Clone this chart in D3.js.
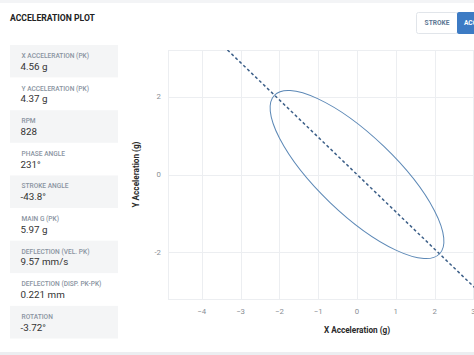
<!DOCTYPE html>
<html>
<head>
<meta charset="utf-8">
<script src="https://cdn.jsdelivr.net/npm/d3@7"></script>
<style>
  body { margin: 0; overflow: hidden; background: #fff; font-family: Roboto, "Noto Sans", sans-serif; }
</style>
</head>
<body>
<div id="chart"></div>
<script>
// Stats panel
const statLabels = ['X ACCELERATION (PK)', 'Y ACCELERATION (PK)', 'RPM', 'PHASE ANGLE', 'STROKE ANGLE',
  'MAIN G (PK)', 'DEFLECTION (VEL. PK)', 'DEFLECTION (DISP. PK-PK)', 'ROTATION'];
const statValues = ['4.56 g', '4.37 g', '828', '231°', '-43.8°', '5.97 g', '9.57 mm/s', '0.221 mm', '-3.72°'];

// Plot data (g)
const xTicks = [-4, -3, -2, -1, 0, 1, 2, 3, 4];
const yTicks = [-2, 0, 2];
const strokeAngle = -43.8;          // degrees, dashed line through origin
const ellipseAxes = [2.95, 1.0];    // semi-major, semi-minor (g)
const ellipseCenter = [0, 0];

const W = 600, H = 355;
const svg = d3.select('#chart').append('svg').attr('width', W).attr('height', H);

// page chrome
svg.append('rect').attr('x', 0).attr('y', 0).attr('width', W).attr('height', 3).attr('fill', '#f3f4f6');
svg.append('rect').attr('x', 0).attr('y', 352).attr('width', W).attr('height', 3).attr('fill', '#eceef1');

svg.append('text').attr('x', 10).attr('y', 21)
  .text('ACCELERATION PLOT')
  .style('font-size', '8.6px').style('font-weight', 700).attr('fill', '#222');

// toggle buttons
svg.append('rect').attr('x', 416.5).attr('y', 12.5).attr('width', 41).attr('height', 21)
  .attr('rx', 2).attr('fill', '#fff').attr('stroke', '#e1e5ea');
svg.append('text').attr('x', 437).attr('y', 25).attr('text-anchor', 'middle')
  .text('STROKE').style('font-size', '6.6px').style('font-weight', 700).attr('fill', '#5d7793');
svg.append('rect').attr('x', 457).attr('y', 12).attr('width', 80).attr('height', 22)
  .attr('rx', 2).attr('fill', '#3d7bc4');
svg.append('text').attr('x', 464).attr('y', 25)
  .text('ACCELERATION').style('font-size', '6.6px').style('font-weight', 700).attr('fill', '#fff');

// stat cards
const cardY = d3.scaleBand().domain(d3.range(statLabels.length)).range([45, 338.5]);
const cards = svg.append('g').selectAll('g').data(statLabels).enter().append('g')
  .attr('transform', (d, i) => `translate(10,${cardY(i)})`);
cards.append('rect').attr('width', 108).attr('height', cardY.bandwidth())
  .attr('fill', (d, i) => i % 2 === 0 ? '#f4f5f6' : '#fff');
cards.append('text').attr('x', 11.5).attr('y', 13)
  .text(d => d)
  .style('font-size', '6.6px').style('font-weight', 500).attr('fill', '#8a94a1');
cards.append('text').attr('x', 10.5).attr('y', 24.8)
  .text((d, i) => statValues[i])
  .style('font-size', '9.8px').attr('fill', '#333');

// plot
const x = d3.scaleLinear().domain([-4.87, 4.87]).range([168, 546]);
const y = d3.scaleLinear().domain([-3.2, 3.2]).range([299, 50]);

const plot = svg.append('g');
svg.append('clipPath').attr('id', 'clip').append('rect')
  .attr('x', x.range()[0]).attr('y', y.range()[1])
  .attr('width', x.range()[1] - x.range()[0]).attr('height', y.range()[0] - y.range()[1]);

plot.append('rect').attr('x', x.range()[0] + 0.5).attr('y', y.range()[1] + 0.5)
  .attr('width', x.range()[1] - x.range()[0]).attr('height', y.range()[0] - y.range()[1])
  .attr('fill', 'none').attr('stroke', '#eceef1');

plot.append('g').selectAll('line').data(xTicks).enter().append('line')
  .attr('x1', d => Math.round(x(d)) + 0.5).attr('x2', d => Math.round(x(d)) + 0.5)
  .attr('y1', y.range()[1]).attr('y2', y.range()[0])
  .attr('stroke', '#eceef1');
plot.append('g').selectAll('line').data(yTicks).enter().append('line')
  .attr('y1', d => Math.round(y(d)) + 0.5).attr('y2', d => Math.round(y(d)) + 0.5)
  .attr('x1', x.range()[0]).attr('x2', x.range()[1])
  .attr('stroke', '#eceef1');

// tick labels
const fmt = d => d < 0 ? '\u2212' + Math.abs(d) : String(d);
plot.append('g').selectAll('text').data(xTicks).enter().append('text')
  .attr('x', d => x(d)).attr('y', 314).attr('text-anchor', 'middle')
  .text(fmt).style('font-size', '7.8px').attr('fill', '#8a8f96');
plot.append('g').selectAll('text').data(yTicks).enter().append('text')
  .attr('x', 161).attr('y', d => y(d) + 2.8).attr('text-anchor', 'end')
  .text(d => String(d)).style('font-size', '7.8px').attr('fill', '#8a8f96');

// axis titles
svg.append('text').attr('x', x(0)).attr('y', 333).attr('text-anchor', 'middle')
  .text('X Acceleration (g)').style('font-size', '8.2px').style('font-weight', 700).attr('fill', '#2a2a2a');
svg.append('text').attr('transform', `translate(139,${y(0)}) rotate(-90)`).attr('text-anchor', 'middle')
  .text('Y Acceleration (g)').style('font-size', '8.2px').style('font-weight', 700).attr('fill', '#2a2a2a');

// marks
const marks = plot.append('g').attr('clip-path', 'url(#clip)');
const slope = Math.tan(strokeAngle * Math.PI / 180);
const lineX = x.domain();
marks.append('line')
  .attr('x1', x(lineX[0])).attr('y1', y(lineX[0] * slope))
  .attr('x2', x(lineX[1])).attr('y2', y(lineX[1] * slope))
  .attr('stroke', '#3c5f88').attr('stroke-width', 1.5).attr('stroke-dasharray', '3,2.5');

marks.append('ellipse')
  .attr('cx', 0).attr('cy', 0)
  .attr('rx', x(ellipseAxes[0]) - x(0))
  .attr('ry', y(0) - y(ellipseAxes[1]))
  .attr('transform', `translate(${x(ellipseCenter[0])},${y(ellipseCenter[1])}) rotate(${-strokeAngle})`)
  .attr('fill', 'none').attr('stroke', '#5c88b6').attr('stroke-width', 1);
</script>
</body>
</html>
